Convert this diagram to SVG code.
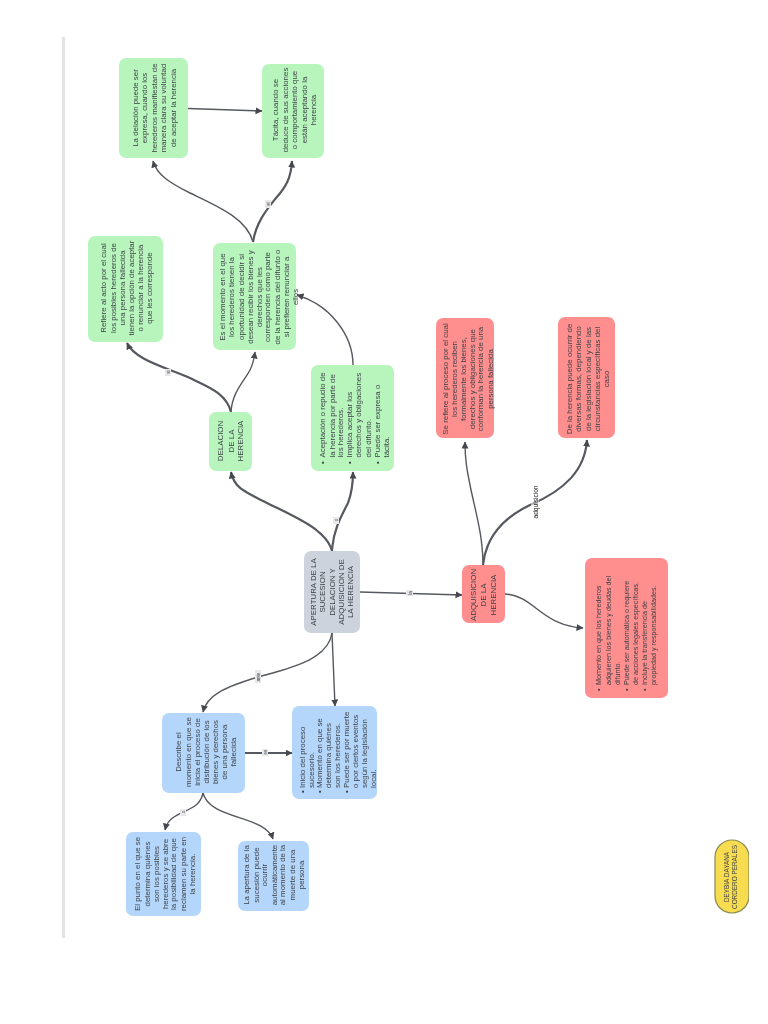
<svg xmlns="http://www.w3.org/2000/svg" width="768" height="1024" viewBox="0 0 768 1024">
<style>
text{font-family:"Liberation Sans",Arial,sans-serif;font-size:7.9px;fill:#3a3f45;text-anchor:middle}
.l{text-anchor:start}
.g rect{fill:#b8f5bd}.r rect{fill:#ff8e8e}.b rect{fill:#b5d6fb}.s rect{fill:#cdd3dc}
.y rect{fill:#f8dc50;stroke:#8a8a50;stroke-width:1.2}
.y text{font-size:6.4px}
#n8 text{font-size:7.2px}
.c path{fill:none;stroke:#55595f;stroke-width:1.4}
.c .t{stroke-width:2.2}
.lb rect{fill:#e8e8e8}
.lb text{font-size:4.5px}
.lb .w{fill:#fff;opacity:.55}
.lb .big{font-size:6.6px;fill:#222}
</style>
<defs>
<marker id="a" markerUnits="userSpaceOnUse" markerWidth="8" markerHeight="8" refX="6.5" refY="3.5" orient="auto"><path d="M0 0L7 3.5L0 7Z" fill="#454a50"/></marker>
<filter id="soft" x="0" y="0" width="100%" height="100%"><feGaussianBlur stdDeviation="0.35"/></filter>
</defs>
<g filter="url(#soft)">
<rect x="62" y="37" width="3" height="901" fill="#e2e2e2"/>
<g id="connectors" class="c">
<path marker-end="url(#a)" d="M188 108.5L262 111"/>
<path marker-end="url(#a)" d="M253 242C247 218 215 205 190 193C170 183 157 175 153 161"/>
<path class="t" marker-end="url(#a)" d="M253 242C256 222 268 208 276 198C286 187 291 178 292 161"/>
<path class="t" marker-end="url(#a)" d="M231 412C226 392 205 386 190 378C165 367 135 360 127 343"/>
<path marker-end="url(#a)" d="M231 412C232 392 245 380 250 370C253 364 254 360 255 352"/>
<path marker-end="url(#a)" d="M353 365C353 335 330 305 297 295"/>
<path class="t" marker-end="url(#a)" d="M332 551C327 530 295 517 267 503C245 492 234 488 231 472"/>
<path class="t" marker-end="url(#a)" d="M332 551C333 530 342 515 348 503C351 495 353 485 353 472"/>
<path marker-end="url(#a)" d="M360 592L462 595"/>
<path marker-end="url(#a)" d="M483 565C483 535 475 510 470 485C467 470 465 460 465 442"/>
<path class="t" marker-end="url(#a)" d="M483 565C486 535 505 517 530 505C565 490 585 470 587 440"/>
<path marker-end="url(#a)" d="M505 594C535 596 540 625 583 628"/>
<path marker-end="url(#a)" d="M332 633L335 706"/>
<path marker-end="url(#a)" d="M332 633C328 660 290 668 258 677C225 687 207 695 203 712"/>
<path class="t" marker-end="url(#a)" d="M245 753L292 753"/>
<path marker-end="url(#a)" d="M203 793C199 815 170 808 165 830"/>
<path marker-end="url(#a)" d="M203 793C210 820 265 815 273 839"/>
</g>
<g id="labels" class="lb">
<g><rect x="265" y="200" width="6" height="8"/><text transform="rotate(-90 268 204)" x="268" y="205.500">si</text></g>
<g><rect x="165" y="369" width="6" height="7"/><text transform="rotate(-90 168 372)" x="168" y="373.500">si</text></g>
<g><rect x="333" y="517" width="6" height="7"/><text transform="rotate(-90 336 520)" x="336" y="521.500">o</text></g>
<g><rect x="406" y="590" width="7" height="6"/><text transform="rotate(-90 410 593)" x="410" y="594.500">la</text></g>
<g><rect class="w" x="531" y="484" width="8" height="36"/><text class="big" transform="rotate(-90 535 502)" x="535" y="504.500">adquisicion</text></g>
<g><rect x="255" y="670" width="6" height="13"/><text transform="rotate(-90 258 677)" x="258" y="678.500">ante</text></g>
<g><rect x="262" y="749" width="6" height="7"/><text transform="rotate(-90 265 752)" x="265" y="753.500">es</text></g>
<g><rect x="180" y="809" width="6" height="7"/><text transform="rotate(-90 183 812)" x="183" y="813.500">o</text></g>
</g>
<g id="n1" class="g"><rect x="119" y="58" width="69" height="100" rx="7"/><g transform="translate(153.500 108) rotate(-90)"><text y="-15.500">La delación puede ser</text><text y="-6.500">expresa, cuando los</text><text y="3.500">herederos manifiestan de</text><text y="12.500">manera clara su voluntad</text><text y="22.500">de aceptar la herencia</text></g></g>
<g id="n2" class="g"><rect x="262" y="64" width="62" height="94" rx="7"/><g transform="translate(293 110) rotate(-90)"><text y="-15">Tácita, cuando se</text><text y="-5">deduce de sus acciones</text><text y="4">o comportamiento que</text><text y="14">están aceptando la</text><text y="23">herencia</text></g></g>
<g id="n3" class="g"><rect x="88" y="236" width="75" height="106" rx="7"/><g transform="translate(125.500 288) rotate(-90)"><text y="-19.500">Refiere al acto por el cual</text><text y="-9.500">los posibles herederos de</text><text y="-0.500">una persona fallecida</text><text y="8.500">tienen la opción de aceptar</text><text y="17.500">o renunciar a la herencia</text><text y="26.500">que les corresponde</text></g></g>
<g id="n4" class="g"><rect x="213" y="243" width="83" height="107" rx="7"/><g transform="translate(254.500 297) rotate(-90)"><text y="-29.500">Es el momento en el que</text><text y="-20.500">los herederos tienen la</text><text y="-10.500">oportunidad de decidir si</text><text y="-1.500">desean recibir los bienes y</text><text y="7">derechos que les</text><text y="15.500">corresponden como parte</text><text y="25.500">de la herencia del difunto o</text><text y="34.500">si prefieren renunciar a</text><text y="43">ellos</text></g></g>
<g id="n5" class="g"><rect x="209" y="412" width="43" height="59" rx="7"/><g transform="translate(230.500 441) rotate(-90)"><text y="-7.500">DELACION</text><text y="3">DE LA</text><text y="12.500">HERENCIA</text></g></g>
<g id="n6" class="g"><rect x="311" y="365" width="83" height="106" rx="7"/><g transform="rotate(-90)"><text class="l" x="-464" y="325">•</text><text class="l" x="-457.500" y="325">Aceptación o repudio de</text><text class="l" x="-457.500" y="334.500">la herencia por parte de</text><text class="l" x="-457.500" y="343">los herederos.</text><text class="l" x="-464" y="352">•</text><text class="l" x="-457.500" y="352">Implica aceptar los</text><text class="l" x="-457.500" y="361">derechos y obligaciones</text><text class="l" x="-457.500" y="371">del difunto.</text><text class="l" x="-464" y="380">•</text><text class="l" x="-457.500" y="380">Puede ser expresa o</text><text class="l" x="-457.500" y="389">tácita.</text></g></g>
<g id="root" class="s"><rect x="304" y="551" width="56" height="82" rx="7"/><g transform="translate(332 592) rotate(-90)"><text y="-16">APERTURA DE LA</text><text y="-7">SUCESION</text><text y="3">DELACION Y</text><text y="12">ADQUISICION DE</text><text y="21">LA HERENCIA</text></g></g>
<g id="n7" class="r"><rect x="462" y="565" width="43" height="58" rx="7"/><g transform="translate(483.500 595) rotate(-90)"><text y="-7.500">ADQUISICION</text><text y="2.500">DE LA</text><text y="12.500">HERENCIA</text></g></g>
<g id="n8" class="r"><rect x="585" y="558" width="83" height="140" rx="7"/><g transform="rotate(-90)"><text class="l" x="-691" y="601">•</text><text class="l" x="-685" y="601">Momento en que los herederos</text><text class="l" x="-685" y="610.500">adquieren los bienes y deudas del</text><text class="l" x="-685" y="620">difunto.</text><text class="l" x="-691" y="629">•</text><text class="l" x="-685" y="629">Puede ser automática o requiere</text><text class="l" x="-685" y="638">de acciones legales específicas.</text><text class="l" x="-691" y="647">•</text><text class="l" x="-685" y="647">Incluye la transferencia de</text><text class="l" x="-685" y="656">propiedad y responsabilidades.</text></g></g>
<g id="n9" class="r"><rect x="436" y="318" width="58" height="120" rx="7"/><g transform="translate(465 379) rotate(-90)"><text y="-17">Se refiere al proceso por el cual</text><text y="-8">los herederos reciben</text><text y="1">formalmente los bienes,</text><text y="10">derechos y obligaciones que</text><text y="18">conforman la herencia de una</text><text y="28">persona fallecida</text></g></g>
<g id="n10" class="r"><rect x="558" y="317" width="57" height="121" rx="7"/><g transform="translate(586.500 379) rotate(-90)"><text y="-14.500">De la herencia puede ocurrir de</text><text y="-5.500">diversas formas, dependiendo</text><text y="4.500">de la legislación local y de las</text><text y="13.500">circunstancias específicas del</text><text y="22.500">caso</text></g></g>
<g id="n11" class="b"><rect x="162" y="713" width="83" height="80" rx="7"/><g transform="translate(203.500 752) rotate(-90)"><text y="-22.500">Describe el</text><text y="-12.500">momento en que se</text><text y="-3.500">inicia el proceso de</text><text y="5.500">distribución de los</text><text y="14.500">bienes y derechos</text><text y="23.500">de una persona</text><text y="32.500">fallecida</text></g></g>
<g id="n12" class="b"><rect x="292" y="706" width="85" height="93" rx="7"/><g transform="rotate(-90)"><text class="l" x="-793" y="305">•</text><text class="l" x="-788" y="305">Inicio del proceso</text><text class="l" x="-788" y="313.500">sucesorio.</text><text class="l" x="-793" y="322">•</text><text class="l" x="-788" y="322">Momento en que se</text><text class="l" x="-788" y="331">determina quiénes</text><text class="l" x="-788" y="340">son los herederos.</text><text class="l" x="-793" y="349">•</text><text class="l" x="-788" y="349">Puede ser por muerte</text><text class="l" x="-788" y="358">o por ciertos eventos</text><text class="l" x="-788" y="367">según la legislación</text><text class="l" x="-788" y="376">local.</text></g></g>
<g id="n13" class="b"><rect x="126" y="832" width="75" height="84" rx="7"/><g transform="translate(163.500 874) rotate(-90)"><text y="-23.500">El punto en el que se</text><text y="-13.500">determina quiénes</text><text y="-4.500">son los posibles</text><text y="4.500">herederos y se abre</text><text y="12.500">la posibilidad de que</text><text y="22.500">reclamen su parte en</text><text y="31.500">la herencia.</text></g></g>
<g id="n14" class="b"><rect x="238" y="841" width="71" height="70" rx="7"/><g transform="translate(273.500 875) rotate(-90)"><text y="-24.500">La apertura de la</text><text y="-14.500">sucesión puede</text><text y="-6.500">ocurrir</text><text y="3.500">automáticamente</text><text y="11.500">al momento de la</text><text y="21.500">muerte de una</text><text y="30.500">persona</text></g></g>
<g id="n15" class="y"><rect x="715" y="840" width="34" height="73" rx="17"/><g transform="translate(732 877) rotate(-90)"><text y="-3">DEYBIA DAYANA</text><text y="4.500">CORDERO PERALES</text></g></g>
</g>
</svg>
